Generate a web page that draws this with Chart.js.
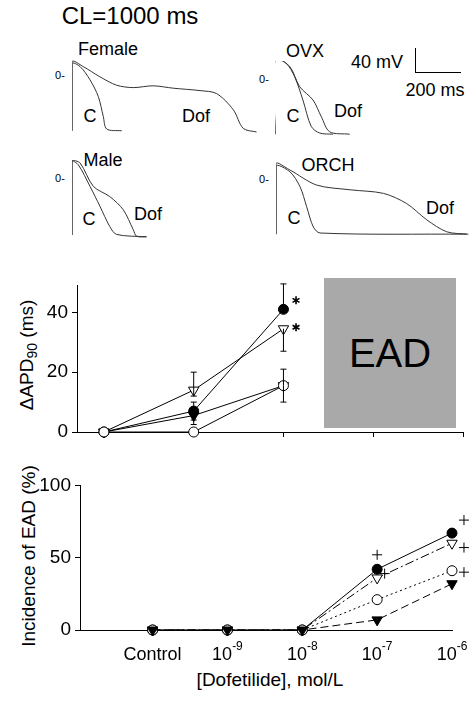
<!DOCTYPE html>
<html><head><meta charset="utf-8">
<script src="https://cdn.jsdelivr.net/npm/chart.js@4"></script>
<style>
body{margin:0;width:474px;height:705px;position:relative;background:#fff;font-family:"Liberation Sans",Arial,sans-serif;color:#000;overflow:hidden}
canvas{position:absolute}
.t{position:absolute;white-space:nowrap;transform:translate(-50%,-50%);font-size:18px;line-height:1;color:#000}
</style></head><body>
<script>
// ---------- data ----------
const traceTimeRange = [0, 880];
const traceMvRange = [-100, 30];
const femaleC_t = [0,0,36,80,117,139,154,221];
const femaleC_v = [-93,19,14,-8,-36,-69,-90,-93];
const femaleD_t = [0,0,50,124,198,272,361,450,569,643,717,761,820];
const femaleD_v = [-93,22,14,-3,-17,-21,-18,-22,-26,-31,-58,-89,-95];
const maleC_t = [0,0,28,80,124,168,198,331];
const maleC_v = [-95,28,22,-14,-47,-81,-94,-98];
const maleD_t = [0,0,36,95,168,228,272,287,331];
const maleD_v = [-95,30,25,-14,-31,-53,-86,-97,-98];
const ovxC_t = [0,0,50,87,124,161,198,258];
const ovxC_v = [-92,33,26,4,-35,-79,-90,-92];
const ovxD_t = [0,0,65,110,169,206,243,332];
const ovxD_v = [-92,33,21,-13,-35,-63,-88,-92];
const orchC_t = [0,0,62,107,136,166,196,847];
const orchC_v = [-92,21,12,-13,-46,-80,-90,-92];
const orchD_t = [0,0,62,180,330,478,581,670,759,855];
const orchD_v = [-92,26,15,-10,-18,-24,-41,-68,-88,-92];

const categories = ['Control','10-9','10-8','10-7','10-6'];
const apdTicks = [0,20,40];
const eadTicks = [0,50,100];
const apdFilledCircle = [0,7,41];
const apdOpenTri = [0,14,34.5];
const apdOpenCircle = [0,0,15.5];
const apdFilledTri = [0,5.5,15.5];
const apdErrFilledCircle = [[0,0],[3,3],[8.5,0]];
const apdErrOpenTri = [[0,0],[6,2],[0,7.5]];
const apdErrFilledTri = [[0,0],[0,3],[5.5,5.5]];
const apdStars = [[2.14,44],[2.14,35]];

const eadFilledCircle = [0,0,0,42,67];
const eadOpenTri = [0,0,0,36,60];
const eadOpenCircle = [0,0,0,21,41];
const eadFilledTri = [0,0,0,7,32];
const eadPlus = [[3,52],[3.1,39],[4.16,76],[4.16,57],[4.16,40]];
</script>

<div class="t" style="left:130px;top:16px;font-size:24px">CL=1000 ms</div>
<div class="t" style="left:108px;top:49px">Female</div>
<div class="t" style="left:90px;top:116px">C</div>
<div class="t" style="left:196px;top:116px">Dof</div>
<div class="t" style="left:305px;top:51px">OVX</div>
<div class="t" style="left:293px;top:116px">C</div>
<div class="t" style="left:348px;top:111px">Dof</div>
<div class="t" style="left:103px;top:160px">Male</div>
<div class="t" style="left:89px;top:219px">C</div>
<div class="t" style="left:148px;top:214px">Dof</div>
<div class="t" style="left:328px;top:165px">ORCH</div>
<div class="t" style="left:294px;top:218px">C</div>
<div class="t" style="left:440px;top:208px">Dof</div>
<div class="t" style="left:377px;top:62px">40 mV</div>
<div class="t" style="left:435px;top:90px">200 ms</div>
<div class="t" style="left:60px;top:75px;font-size:11px">0-</div>
<div class="t" style="left:60px;top:178px;font-size:11px">0-</div>
<div class="t" style="left:264px;top:79px;font-size:11px">0-</div>
<div class="t" style="left:264px;top:179px;font-size:11px">0-</div>
<div style="position:absolute;left:415px;top:48px;width:45px;height:24px;border-left:1px solid #000;border-bottom:1px solid #000"></div>
<div style="position:absolute;left:324px;top:278px;width:132px;height:150px;background:#a9a9a9"></div>
<div class="t" style="left:390px;top:353px;font-size:40px">EAD</div>
<div class="t" style="left:28px;top:355px;font-size:19px;transform:translate(-50%,-50%) rotate(-90deg)">ΔAPD<sub style="font-size:14px">90</sub> (ms)</div>
<div class="t" style="left:28px;top:556px;font-size:19px;transform:translate(-50%,-50%) rotate(-90deg)">Incidence of EAD (%)</div>
<div class="t" style="left:270px;top:679px;font-size:19px">[Dofetilide], mol/L</div>

<canvas id="f" style="left:72px;top:57px" width="198" height="78"></canvas>
<canvas id="m" style="left:72px;top:160px" width="198" height="78"></canvas>
<canvas id="o" style="left:275px;top:61px" width="198" height="78"></canvas>
<canvas id="r" style="left:276px;top:161px" width="198" height="78"></canvas>
<canvas id="mid" style="left:0;top:270px" width="474" height="180"></canvas>
<canvas id="bot" style="left:0;top:470px" width="474" height="235"></canvas>
<script>
Chart.defaults.font.family='"Liberation Sans",Arial,sans-serif';
Chart.defaults.color='#000';
const pts=(t,v)=>t.map((x,i)=>({x,y:v[i]}));
function trace(id,a,b){
  new Chart(document.getElementById(id),{type:'scatter',
    data:{datasets:[a,b].map(d=>({data:d,showLine:true,borderColor:'#333',borderWidth:1,pointRadius:0,tension:0.3}))},
    options:{responsive:false,animation:false,layout:{padding:0},plugins:{legend:{display:false},tooltip:{enabled:false}},
      scales:{x:{display:false,min:traceTimeRange[0],max:traceTimeRange[1]},y:{display:false,min:traceMvRange[0],max:traceMvRange[1]}}}});
}
trace('f',pts(femaleC_t,femaleC_v),pts(femaleD_t,femaleD_v));
trace('m',pts(maleC_t,maleC_v),pts(maleD_t,maleD_v));
trace('o',pts(ovxC_t,ovxC_v),pts(ovxD_t,ovxD_v));
trace('r',pts(orchC_t,orchC_v),pts(orchD_t,orchD_v));

const ser=(arr)=>arr.map((y,i)=>({x:i,y}));
function mk(data,style,dash){
  const m={fc:['circle','#000',0],oc:['circle','#fff',0],ft:['triangle','#000',180],ot:['triangle','#fff',180]}[style];
  return {data,showLine:true,borderColor:'#000',borderWidth:1,borderDash:dash||[],pointStyle:m[0],pointBackgroundColor:m[1],
    pointBorderColor:'#000',pointBorderWidth:1,pointRadius:m[0]==='circle'?5:6,pointRotation:m[2],clip:false};
}
const catTicks=s=>{s.ticks=[0,1,2,3,4].map(v=>({value:v}));};
const fixedTicks=arr=>s=>{s.ticks=arr.map(v=>({value:v}));};
function markPlugin(list,kind){return {id:'mk'+kind,afterDatasetsDraw(c){
  const ctx=c.ctx,x=c.scales.x,y=c.scales.y;ctx.save();ctx.strokeStyle='#000';
  list.forEach(p=>{const px=x.getPixelForValue(p[0]),py=y.getPixelForValue(p[1]);ctx.beginPath();
    if(kind==='plus'){ctx.lineWidth=1;ctx.moveTo(px-5,py);ctx.lineTo(px+5,py);ctx.moveTo(px,py-5);ctx.lineTo(px,py+5);}
    else{ctx.lineWidth=1.6;for(let k=0;k<3;k++){const a=Math.PI/2+k*Math.PI/3;ctx.moveTo(px-4*Math.cos(a),py-4*Math.sin(a));ctx.lineTo(px+4*Math.cos(a),py+4*Math.sin(a));}}
    ctx.stroke();});ctx.restore();}};}
const errPlugin={id:'err',afterDatasetsDraw(c){
  const ctx=c.ctx,x=c.scales.x,y=c.scales.y;
  const sets=[[apdFilledCircle,apdErrFilledCircle],[apdOpenTri,apdErrOpenTri],[apdFilledTri,apdErrFilledTri]];
  ctx.save();ctx.strokeStyle='#000';ctx.lineWidth=1;
  sets.forEach(([v,e])=>v.forEach((val,i)=>{
    const px=x.getPixelForValue(i);
    [[e[i][0],1],[e[i][1],-1]].forEach(([d,s])=>{ if(!d)return;
      const y0=y.getPixelForValue(val),y1=y.getPixelForValue(val+s*d);
      ctx.beginPath();ctx.moveTo(px,y0);ctx.lineTo(px,y1);ctx.moveTo(px-3,y1);ctx.lineTo(px+3,y1);ctx.stroke();});
  }));
  ctx.restore();}};
new Chart(document.getElementById('mid'),{type:'scatter',
  data:{datasets:[mk(ser(apdOpenCircle),'oc'),mk(ser(apdFilledTri),'ft'),mk(ser(apdOpenTri),'ot'),mk(ser(apdFilledCircle),'fc')]},
  options:{responsive:false,animation:false,layout:{padding:{top:7,right:11,bottom:0}},plugins:{legend:{display:false},tooltip:{enabled:false}},
    scales:{x:{type:'linear',min:-0.3,max:4,afterBuildTicks:catTicks,afterFit:s=>{s.height=18},ticks:{display:false},
        grid:{drawOnChartArea:false,tickLength:5,color:'#000'},border:{color:'#000'}},
      y:{min:0,max:49,afterBuildTicks:fixedTicks(apdTicks),afterFit:s=>{s.width=77},ticks:{font:{size:19},padding:4},
        grid:{drawOnChartArea:false,tickLength:5,color:'#000'},border:{color:'#000'}}}},
  plugins:[errPlugin,markPlugin(apdStars,'star')]});

const labPlugin={id:'lab',afterDraw(c){
  const ctx=c.ctx,x=c.scales.x,yb=c.chartArea.bottom+25;
  ctx.save();ctx.fillStyle='#000';ctx.textBaseline='middle';
  categories.forEach((lab,i)=>{
    const px=x.getPixelForValue(i);
    if(lab==='Control'){ctx.font='18px "Liberation Sans"';ctx.textAlign='center';ctx.fillText(lab,px,yb);return;}
    const [b,e]=['10',lab.slice(2)];
    ctx.font='18px "Liberation Sans"';const w1=ctx.measureText(b).width;
    ctx.font='12px "Liberation Sans"';const w2=ctx.measureText(e).width;
    const sx=px-(w1+w2)/2;
    ctx.font='18px "Liberation Sans"';ctx.textAlign='left';ctx.fillText(b,sx,yb);
    ctx.font='12px "Liberation Sans"';ctx.fillText(e,sx+w1,yb-8);
  });ctx.restore();}};
new Chart(document.getElementById('bot'),{type:'scatter',
  data:{datasets:[mk(ser(eadFilledTri),'ft',[8,4]),mk(ser(eadOpenCircle),'oc',[2,3]),mk(ser(eadOpenTri),'ot',[9,3,2,3]),mk(ser(eadFilledCircle),'fc')]},
  options:{responsive:false,animation:false,layout:{padding:{top:13,right:22,bottom:0}},plugins:{legend:{display:false},tooltip:{enabled:false}},
    scales:{x:{type:'linear',min:-0.97,max:4,afterBuildTicks:catTicks,afterFit:s=>{s.height=75},ticks:{display:false},
        grid:{drawOnChartArea:false,drawTicks:false,color:'#000'},border:{color:'#000'}},
      y:{min:0,max:100,afterBuildTicks:fixedTicks(eadTicks),afterFit:s=>{s.width=80},ticks:{font:{size:19},padding:4},
        grid:{drawOnChartArea:false,tickLength:5,color:'#000'},border:{color:'#000'}}}},
  plugins:[labPlugin,markPlugin(eadPlus,'plus')]});
</script>
</body></html>
